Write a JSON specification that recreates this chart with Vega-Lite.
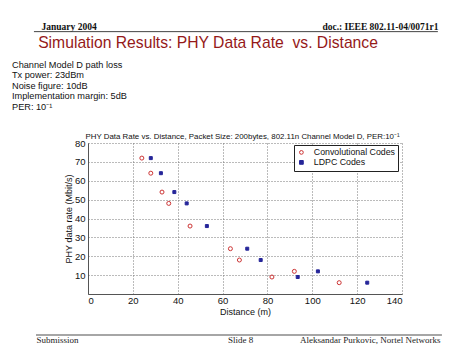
{
  "$schema": "https://vega.github.io/schema/vega-lite/v6.json",
  "width": 314,
  "height": 151,
  "autosize": {"type": "none"},
  "padding": {"left": 88, "top": 143, "right": 72, "bottom": 61},
  "background": "white",
  "config": {"font": "Liberation Sans", "view": {"stroke": null}},
  "title": {
    "text": "\u200b\u00a0\u00a0\u00a0\u00a0\u00a0\u00a0Simulation Results: PHY Data Rate\u00a0 vs. Distance",
    "subtitle": ["Channel Model D path loss", "Tx power: 23dBm", "Noise figure: 10dB", "Implementation margin: 5dB", "PER: 10\u207b\u00b9"],
    "anchor": "start",
    "frame": "group",
    "orient": "top",
    "dx": -76,
    "offset": -92,
    "font": "Liberation Sans",
    "fontSize": 15.7,
    "fontWeight": "normal",
    "color": "#951919",
    "subtitleFont": "Liberation Sans",
    "subtitleFontSize": 9.2,
    "subtitleColor": "#111111",
    "subtitleLineHeight": 10.5,
    "subtitlePadding": 9
  },
  "datasets": {
    "codes": [
      {"code": "Convolutional Codes", "distance": 24, "rate": 72},
      {"code": "Convolutional Codes", "distance": 28, "rate": 64},
      {"code": "Convolutional Codes", "distance": 33, "rate": 54},
      {"code": "Convolutional Codes", "distance": 36, "rate": 48},
      {"code": "Convolutional Codes", "distance": 45.5, "rate": 36},
      {"code": "Convolutional Codes", "distance": 63.5, "rate": 24},
      {"code": "Convolutional Codes", "distance": 67.5, "rate": 18},
      {"code": "Convolutional Codes", "distance": 82, "rate": 9},
      {"code": "Convolutional Codes", "distance": 92, "rate": 12},
      {"code": "Convolutional Codes", "distance": 112, "rate": 6},
      {"code": "LDPC Codes", "distance": 28, "rate": 72},
      {"code": "LDPC Codes", "distance": 32.5, "rate": 64},
      {"code": "LDPC Codes", "distance": 38.5, "rate": 54},
      {"code": "LDPC Codes", "distance": 44, "rate": 48},
      {"code": "LDPC Codes", "distance": 53, "rate": 36},
      {"code": "LDPC Codes", "distance": 71, "rate": 24},
      {"code": "LDPC Codes", "distance": 77, "rate": 18},
      {"code": "LDPC Codes", "distance": 93.5, "rate": 9},
      {"code": "LDPC Codes", "distance": 102.5, "rate": 12},
      {"code": "LDPC Codes", "distance": 124.5, "rate": 6}
    ]
  },
  "layer": [
    {
      "data": {"name": "codes"},
      "transform": [{"filter": "datum.code === 'Convolutional Codes'"}],
      "mark": {"type": "point", "size": 16, "strokeWidth": 1, "opacity": 1},
      "encoding": {
        "x": {
          "field": "distance", "type": "quantitative",
          "scale": {"domain": [0, 140], "nice": false},
          "axis": {
            "orient": "bottom", "values": [0, 20, 40, 60, 80, 100, 120, 140],
            "grid": true, "gridDash": [1, 2], "gridColor": "#777777", "gridOpacity": 1,
            "domainColor": "#555555", "ticks": false,
            "labelFontSize": 9.5, "labelColor": "#111111", "labelPadding": 1,
            "title": "Distance (m)", "titleFontSize": 9, "titleFontWeight": "normal", "titleColor": "#111111",
            "titleX": 157, "titleY": 20, "titleAlign": "center", "titleBaseline": "alphabetic"
          }
        },
        "y": {
          "field": "rate", "type": "quantitative",
          "scale": {"domain": [0, 80], "nice": false},
          "axis": {
            "orient": "left", "values": [10, 20, 30, 40, 50, 60, 70, 80],
            "grid": true, "gridDash": [1, 2], "gridColor": "#777777", "gridOpacity": 1,
            "domainColor": "#555555", "ticks": false,
            "labelFontSize": 9.5, "labelColor": "#111111", "labelPadding": 3,
            "title": "PHY data rate (Mbit/s)", "titleFontSize": 9, "titleFontWeight": "normal", "titleColor": "#111111",
            "titleX": -17, "titleY": 75.5, "titleAngle": 270, "titleAlign": "center", "titleBaseline": "alphabetic"
          }
        },
        "stroke": {
          "field": "code", "type": "nominal",
          "scale": {"domain": ["Convolutional Codes", "LDPC Codes"], "range": ["#cc3333", "#262699"]},
          "legend": {
            "orient": "none", "legendX": 206, "legendY": 2, "title": null,
            "strokeColor": "#222222", "fillColor": "white", "padding": 3,
            "labelFontSize": 8.8, "labelColor": "#111111", "labelOffset": 8,
            "symbolSize": 14, "symbolStrokeWidth": 1, "rowPadding": 0
          }
        },
        "fill": {
          "field": "code", "type": "nominal",
          "scale": {"domain": ["Convolutional Codes", "LDPC Codes"], "range": ["transparent", "#262699"]}
        },
        "shape": {
          "field": "code", "type": "nominal",
          "scale": {"domain": ["Convolutional Codes", "LDPC Codes"], "range": ["circle", "square"]}
        }
      }
    },
    {
      "data": {"name": "codes"},
      "transform": [{"filter": "datum.code === 'LDPC Codes'"}],
      "mark": {"type": "point", "size": 9, "strokeWidth": 1, "opacity": 1},
      "encoding": {
        "x": {
          "field": "distance", "type": "quantitative",
          "scale": {"domain": [0, 140], "nice": false},
          "axis": {
            "orient": "top", "domain": false, "ticks": false, "labels": false, "grid": false,
            "title": "PHY Data Rate vs. Distance, Packet Size: 200bytes, 802.11n Channel Model D, PER:10\u207b\u00b9",
            "titleFontSize": 7.9, "titleFontWeight": "normal", "titleColor": "#111111",
            "titleX": 154, "titleY": -5, "titleAlign": "center", "titleBaseline": "alphabetic"
          }
        },
        "y": {
          "field": "rate", "type": "quantitative",
          "scale": {"domain": [0, 80], "nice": false},
          "axis": {
            "orient": "right", "domain": false, "ticks": false, "labels": false, "grid": false,
            "title": "Slide 8", "titleFont": "Liberation Serif", "titleFontSize": 9, "titleFontWeight": "normal", "titleColor": "#222222",
            "titleX": -162, "titleY": 199, "titleAngle": 0, "titleAlign": "center", "titleBaseline": "alphabetic"
          }
        },
        "stroke": {"field": "code", "type": "nominal", "scale": {"domain": ["Convolutional Codes", "LDPC Codes"], "range": ["#cc3333", "#262699"]}},
        "fill": {"field": "code", "type": "nominal", "scale": {"domain": ["Convolutional Codes", "LDPC Codes"], "range": ["transparent", "#262699"]}},
        "shape": {"field": "code", "type": "nominal", "scale": {"domain": ["Convolutional Codes", "LDPC Codes"], "range": ["circle", "square"]}}
      }
    },
    {
      "data": {"values": [{}]},
      "mark": {"type": "rule", "color": "#444444", "strokeWidth": 1},
      "encoding": {
        "x": {
          "datum": -24.1, "type": "quantitative",
          "scale": {"domain": [0, 140], "nice": false},
          "axis": {
            "orient": "top", "domain": false, "ticks": false, "labels": false, "grid": false,
            "title": "doc.: IEEE 802.11-04/0071r1", "titleFont": "Liberation Serif", "titleFontSize": 9.5, "titleFontWeight": "bold", "titleColor": "#111111",
            "titleX": 350, "titleY": -114, "titleAlign": "right", "titleBaseline": "alphabetic"
          }
        },
        "x2": {"datum": 156.0},
        "y": {
          "datum": 139.0, "type": "quantitative",
          "scale": {"domain": [0, 80], "nice": false},
          "axis": {
            "orient": "left", "domain": false, "ticks": false, "labels": false, "grid": false,
            "title": "January 2004", "titleFont": "Liberation Serif", "titleFontSize": 9.5, "titleFontWeight": "bold", "titleColor": "#111111",
            "titleX": -47, "titleY": -114, "titleAngle": 0, "titleAlign": "left", "titleBaseline": "alphabetic"
          }
        }
      }
    },
    {
      "data": {"values": [{}]},
      "mark": {"type": "rule", "color": "#888888", "strokeWidth": 1.5},
      "encoding": {
        "x": {
          "datum": -23.2, "type": "quantitative",
          "scale": {"domain": [0, 140], "nice": false},
          "axis": {
            "orient": "bottom", "domain": false, "ticks": false, "labels": false, "grid": false,
            "title": "Aleksandar Purkovic, Nortel Networks", "titleFont": "Liberation Serif", "titleFontSize": 9, "titleFontWeight": "normal", "titleColor": "#222222",
            "titleX": 352, "titleY": 48, "titleAlign": "right", "titleBaseline": "alphabetic"
          }
        },
        "x2": {"datum": 157.8},
        "y": {
          "datum": -21.7, "type": "quantitative",
          "scale": {"domain": [0, 80], "nice": false},
          "axis": {
            "orient": "left", "domain": false, "ticks": false, "labels": false, "grid": false,
            "title": "Submission", "titleFont": "Liberation Serif", "titleFontSize": 9, "titleFontWeight": "normal", "titleColor": "#222222",
            "titleX": -52, "titleY": 199, "titleAngle": 0, "titleAlign": "left", "titleBaseline": "alphabetic"
          }
        }
      }
    }
  ],
  "resolve": {
    "scale": {"x": "independent", "y": "independent"},
    "axis": {"x": "independent", "y": "independent"}
  }
}
